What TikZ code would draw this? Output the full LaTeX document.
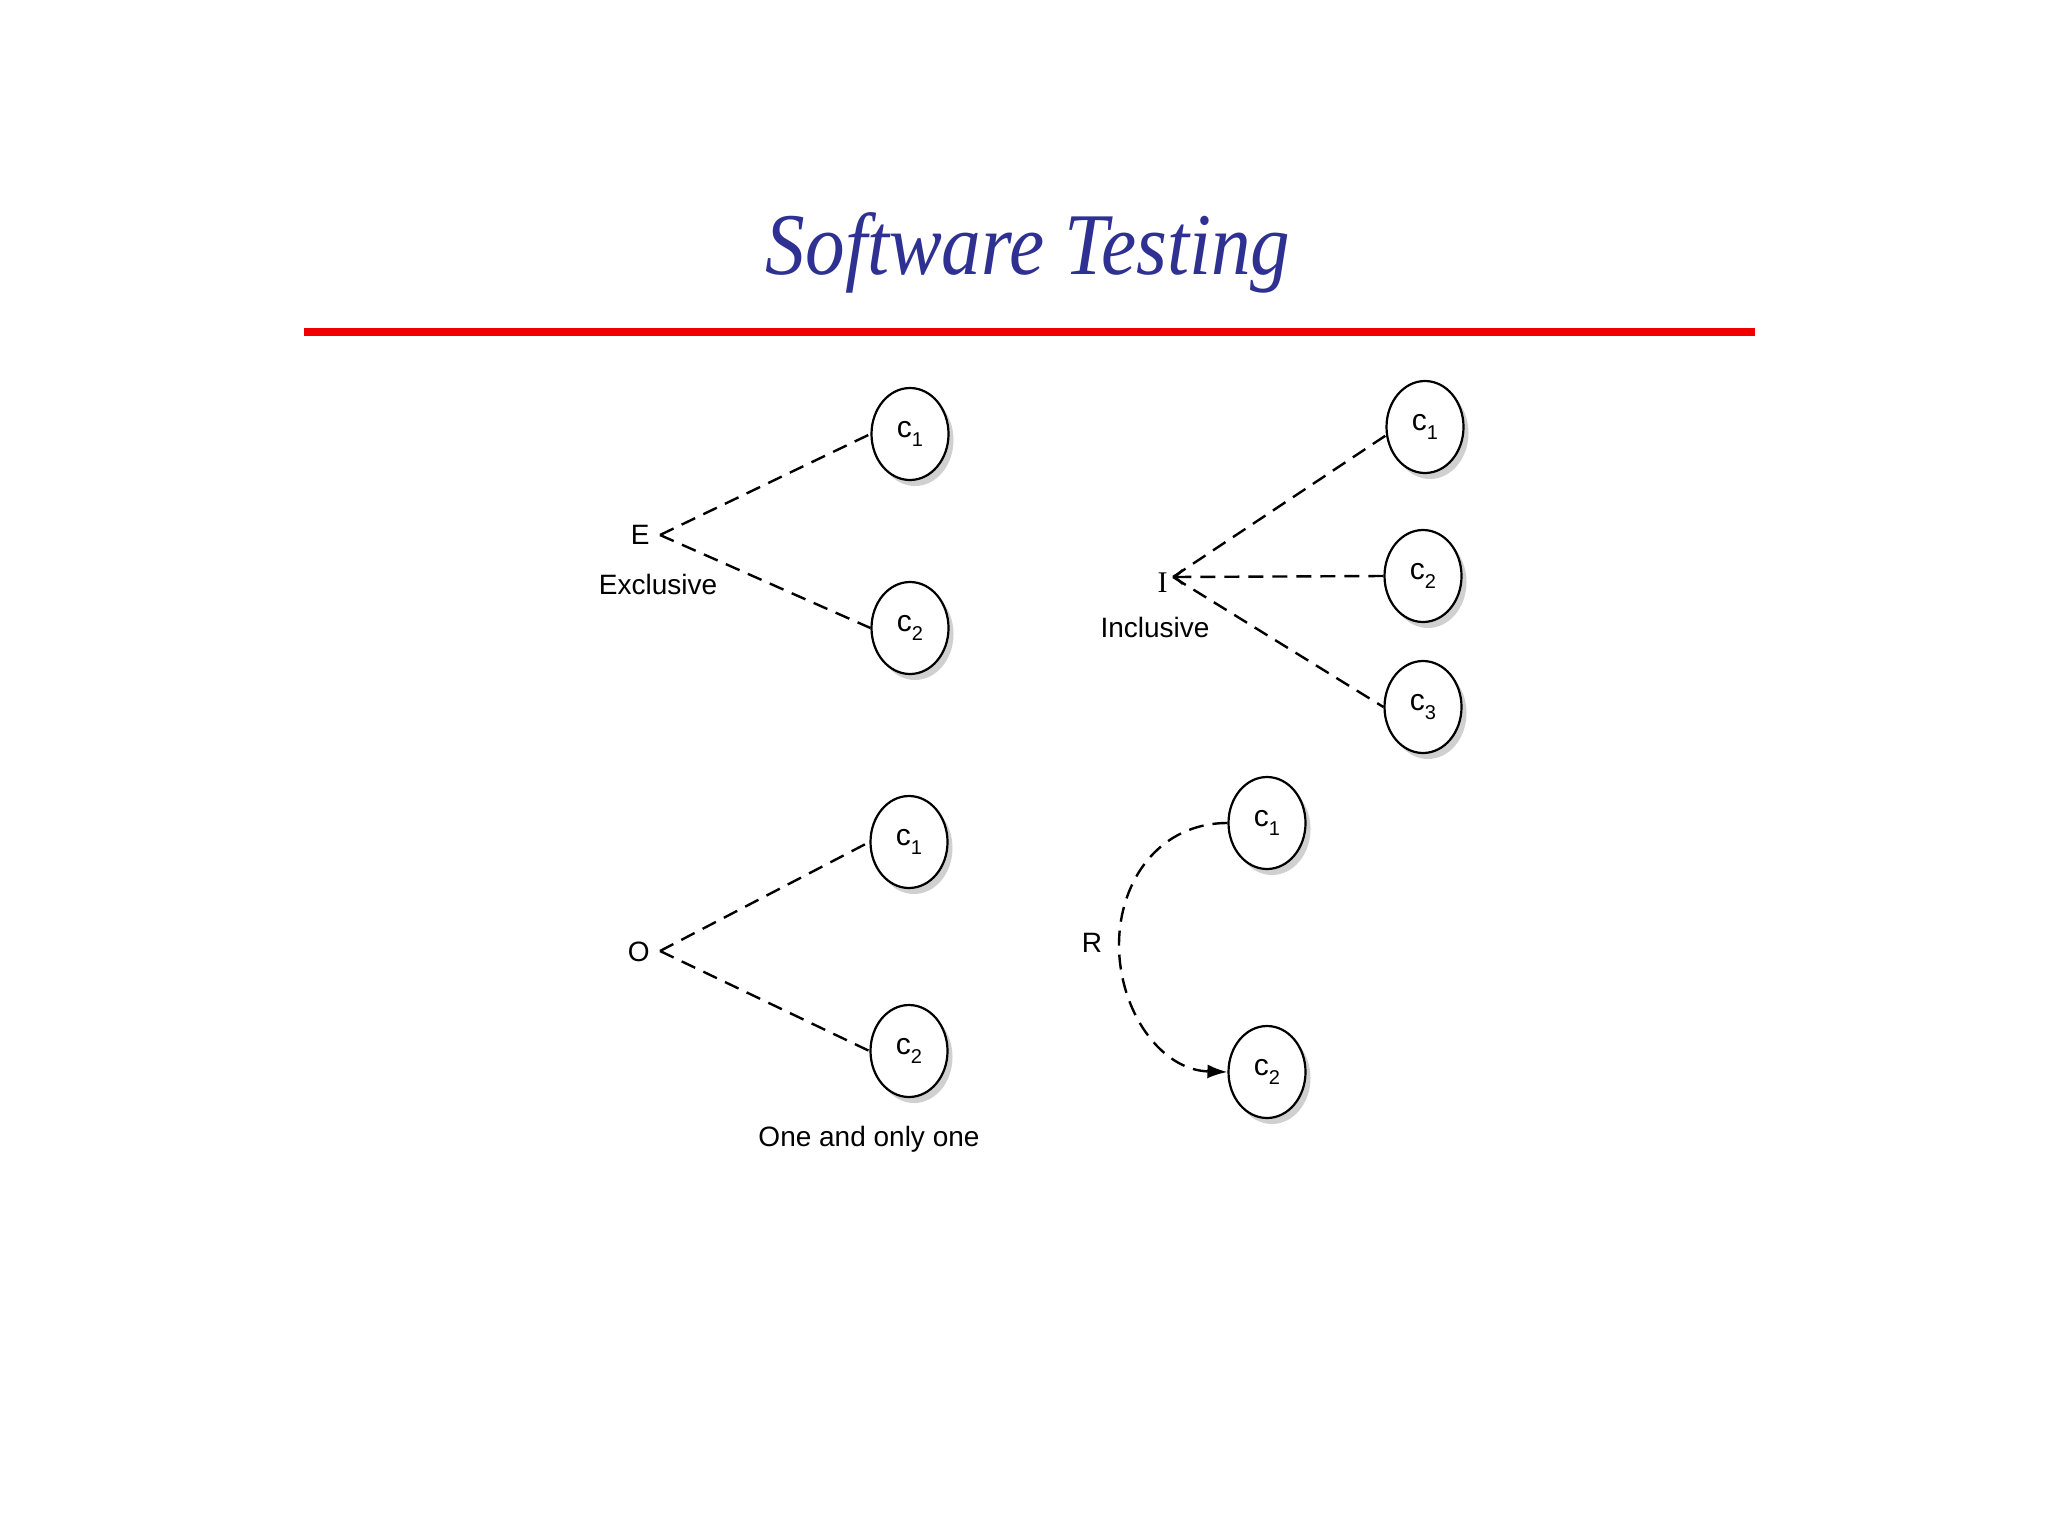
\documentclass[tikz,border=0pt]{standalone}
\usepackage{fontspec}
\usepackage{graphicx}
\setmainfont{Liberation Sans}
\newfontfamily\serifI{Liberation Serif}
\usetikzlibrary{shapes.geometric,shadows,arrows.meta}
\definecolor{titleblue}{RGB}{46,49,146}
\definecolor{barred}{RGB}{240,0,0}
\newcommand\csub[1]{\raisebox{-0.6ex}{\fontsize{10}{10}\selectfont #1}}
\begin{document}
\begin{tikzpicture}[x=0.5pt,y=-0.5pt,
  cnode/.style={ellipse, draw, line width=1.1pt, minimum width=38.5pt, minimum height=46pt,
    inner sep=0pt, fill=white,
    drop shadow={shadow xshift=2.5pt, shadow yshift=-3pt, fill=black!30, opacity=0.6},
    font=\fontsize{15}{16}\selectfont},
  lbl/.style={font=\fontsize{14}{16}\selectfont, inner sep=0pt},
  dashline/.style={line width=1.2pt, dash pattern=on 7.5pt off 4.5pt}]
\useasboundingbox (0,0) rectangle (2048,1536);
\fill[white] (0,0) rectangle (2048,1536);
% title
\node[anchor=base, inner sep=0pt, text=titleblue,
  font=\serifI\itshape\fontsize{44}{50}\selectfont] (title) at (1028,274)
  {\scalebox{0.9}[1]{Software Testing}};
\coordinate (barL) at (304,332);
\coordinate (barR) at (1755,332);
\draw[barred, line width=4pt] (barL) -- (barR);
% Exclusive
\node[lbl, anchor=east] (E) at (650,535) {E};
\coordinate (Ev) at (660,535);
\node[lbl] (excl) at (658,584) {Exclusive};
\node[cnode] (E1) at (910,434) {c\csub{1}};
\node[cnode] (E2) at (910,628) {c\csub{2}};
\draw[dashline] (Ev) -- (E1.west);
\draw[dashline] (Ev) -- (E2.west);
% Inclusive
\node[inner sep=0pt, anchor=east, font=\serifI\fontsize{15}{16}\selectfont] (I) at (1168,583) {I};
\coordinate (Iv) at (1173,577);
\node[lbl] (incl) at (1155,627) {Inclusive};
\node[cnode] (I1) at (1425,427) {c\csub{1}};
\node[cnode] (I2) at (1423,576) {c\csub{2}};
\node[cnode] (I3) at (1423,707) {c\csub{3}};
\draw[dashline] (Iv) -- (I1.192);
\draw[dashline, -{Straight Barb[length=4pt,width=7pt]}] (I2.west) -- (Iv);
\draw[dashline] (Iv) -- (I3.west);
% One and only one
\node[lbl, anchor=east] (O) at (650,952) {O};
\coordinate (Ov) at (660,951);
\node[cnode] (O1) at (909,842) {c\csub{1}};
\node[cnode] (O2) at (909,1051) {c\csub{2}};
\draw[dashline] (Ov) -- (O1.west);
\draw[dashline] (Ov) -- (O2.west);
\node[lbl] (one) at (869,1139) {One and only one};
% Requires
\node[lbl] (R) at (1092,943) {R};
\node[cnode] (R1) at (1267,823) {c\csub{1}};
\node[cnode] (R2) at (1267,1072) {c\csub{2}};
\coordinate (Rm) at (1119,945);
\draw[dashline, -{Latex[length=10pt,width=7pt]}] (R1.west) .. controls (1160,823) and (1119,880) .. (Rm)
  .. controls (1119,1010) and (1160,1070) .. (R2.west);
\end{tikzpicture}
\end{document}
